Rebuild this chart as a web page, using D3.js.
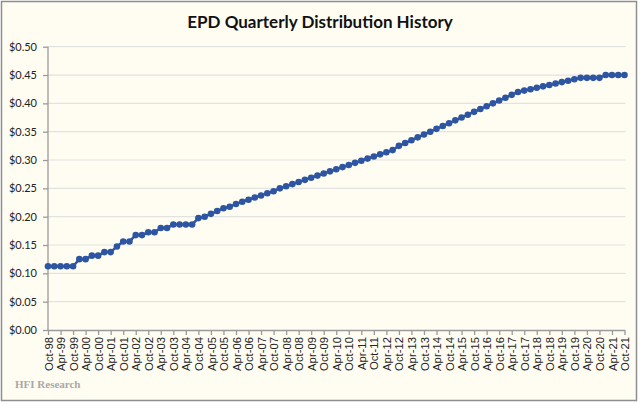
<!DOCTYPE html>
<html>
<head>
<meta charset="utf-8">
<script src="https://cdn.jsdelivr.net/npm/d3@7"></script>
<style>
  body { margin: 0; background: #fff; }
  svg { display: block; }
</style>
</head>
<body>
<div id="chart"></div>
<script>
var quarters = [
    'Oct-98','Jan-99','Apr-99','Jul-99','Oct-99','Jan-00','Apr-00','Jul-00','Oct-00',
    'Jan-01','Apr-01','Jul-01','Oct-01','Jan-02','Apr-02','Jul-02','Oct-02',
    'Jan-03','Apr-03','Jul-03','Oct-03','Jan-04','Apr-04','Jul-04','Oct-04',
    'Jan-05','Apr-05','Jul-05','Oct-05','Jan-06','Apr-06','Jul-06','Oct-06',
    'Jan-07','Apr-07','Jul-07','Oct-07','Jan-08','Apr-08','Jul-08','Oct-08',
    'Jan-09','Apr-09','Jul-09','Oct-09','Jan-10','Apr-10','Jul-10','Oct-10',
    'Jan-11','Apr-11','Jul-11','Oct-11','Jan-12','Apr-12','Jul-12','Oct-12',
    'Jan-13','Apr-13','Jul-13','Oct-13','Jan-14','Apr-14','Jul-14','Oct-14',
    'Jan-15','Apr-15','Jul-15','Oct-15','Jan-16','Apr-16','Jul-16','Oct-16',
    'Jan-17','Apr-17','Jul-17','Oct-17','Jan-18','Apr-18','Jul-18','Oct-18',
    'Jan-19','Apr-19','Jul-19','Oct-19','Jan-20','Apr-20','Jul-20','Oct-20',
    'Jan-21','Apr-21','Jul-21','Oct-21'
];

var distributions = [
    0.1125, 0.1125, 0.1125, 0.1125, 0.1125, 0.125, 0.125, 0.13125, 0.13125,
    0.1375, 0.1375, 0.1475, 0.15625, 0.15625, 0.1675, 0.1675, 0.1725,
    0.1725, 0.18, 0.18, 0.18625, 0.18625, 0.18625, 0.18625, 0.1975,
    0.2, 0.205, 0.21, 0.215, 0.2175, 0.2225, 0.22625, 0.23,
    0.23375, 0.2375, 0.24125, 0.245, 0.25, 0.25375, 0.2575, 0.26125,
    0.265, 0.26875, 0.2725, 0.27625, 0.28, 0.28375, 0.2875, 0.29125,
    0.295, 0.29875, 0.3025, 0.30625, 0.31, 0.31375, 0.3175, 0.325,
    0.33, 0.335, 0.34, 0.345, 0.35, 0.355, 0.36, 0.365,
    0.37, 0.375, 0.38, 0.385, 0.39, 0.395, 0.40, 0.405,
    0.41, 0.415, 0.42, 0.4225, 0.425, 0.4275, 0.43, 0.4325,
    0.435, 0.4375, 0.44, 0.4425, 0.445, 0.445, 0.445, 0.445,
    0.45, 0.45, 0.45, 0.45
];

// every other quarter gets a label
var tickLabels = [
    'Oct-98','Apr-99','Oct-99','Apr-00','Oct-00','Apr-01','Oct-01','Apr-02','Oct-02',
    'Apr-03','Oct-03','Apr-04','Oct-04','Apr-05','Oct-05','Apr-06','Oct-06',
    'Apr-07','Oct-07','Apr-08','Oct-08','Apr-09','Oct-09','Apr-10','Oct-10',
    'Apr-11','Oct-11','Apr-12','Oct-12','Apr-13','Oct-13','Apr-14','Oct-14',
    'Apr-15','Oct-15','Apr-16','Oct-16','Apr-17','Oct-17','Apr-18','Oct-18',
    'Apr-19','Oct-19','Apr-20','Oct-20','Apr-21','Oct-21'
];

var yTicks = [0, 0.05, 0.10, 0.15, 0.20, 0.25, 0.30, 0.35, 0.40, 0.45, 0.50];

var width = 640, height = 404;
var plotLeft = 48, plotRight = 624.5, plotTop = 46.7, plotBottom = 330;

var svg = d3.select('#chart').append('svg')
            .attr('width', width)
            .attr('height', height);

svg.append('rect')
   .attr('x', 1.5).attr('y', 1.5)
   .attr('width', 635).attr('height', 399)
   .style('fill', '#fffdf2')
   .style('stroke', '#8e8e8e')
   .style('stroke-width', 1.5);

svg.append('text')
   .attr('x', 320).attr('y', 28)
   .attr('text-anchor', 'middle')
   .style('font-family', 'Lato, "Open Sans", sans-serif')
   .style('font-weight', 'bold')
   .style('font-size', '17px')
   .style('fill', '#111')
   .text('EPD Quarterly Distribution History');

var x = d3.scalePoint().domain(quarters).range([plotLeft, plotRight]);
var y = d3.scaleLinear().domain([0, 0.5]).range([plotBottom, plotTop]);

// gridlines
svg.append('g').selectAll('line')
   .data(yTicks.slice(1))
   .enter()
   .append('line')
   .attr('x1', plotLeft).attr('x2', plotRight + 1)
   .attr('y1', function (d) { return y(d); })
   .attr('y2', function (d) { return y(d); })
   .style('stroke', '#e2e2e0')
   .style('stroke-width', 1.2);

var yAxis = svg.append('g')
               .attr('transform', 'translate(' + plotLeft + ',0)')
               .call(d3.axisLeft(y).tickValues(yTicks).tickSize(5).tickPadding(6)
                       .tickFormat(d3.format('$.2f')));
yAxis.selectAll('text')
     .style('font-family', 'Lato, "Open Sans", sans-serif')
     .style('font-size', '11px')
     .style('fill', '#222');

var xAxis = svg.append('g')
               .attr('transform', 'translate(0,' + plotBottom + ')')
               .call(d3.axisBottom(x).tickValues(tickLabels).tickSize(5).tickSizeOuter(0));
xAxis.selectAll('text')
     .attr('transform', 'rotate(-90)')
     .attr('text-anchor', 'end')
     .attr('x', -7)
     .attr('y', 0)
     .attr('dy', '0.36em')
     .style('font-family', '"Liberation Sans", Arial, sans-serif')
     .style('font-size', '11.3px')
     .style('fill', '#222');

svg.selectAll('.domain, .tick line')
   .style('stroke', '#9a9a9a')
   .style('stroke-width', 1.3);
yAxis.select('.domain').attr('d', 'M0,' + plotBottom + 'V' + plotTop);

var line = d3.line()
             .x(function (d, i) { return x(quarters[i]); })
             .y(function (d) { return y(d); });

svg.append('path')
   .datum(distributions)
   .attr('d', line)
   .style('fill', 'none')
   .style('stroke', '#2e55a1')
   .style('stroke-width', 2.5);

svg.append('g').selectAll('circle')
   .data(distributions)
   .enter()
   .append('circle')
   .attr('cx', function (d, i) { return x(quarters[i]); })
   .attr('cy', function (d) { return y(d); })
   .attr('r', 3.3)
   .style('fill', '#2e55a1');

svg.append('text')
   .attr('x', 15).attr('y', 388)
   .style('font-family', '"Liberation Serif", "Times New Roman", serif')
   .style('font-weight', 'bold')
   .style('font-size', '11px')
   .style('fill', '#a8a8a8')
   .text('HFI Research');
</script>
</body>
</html>
